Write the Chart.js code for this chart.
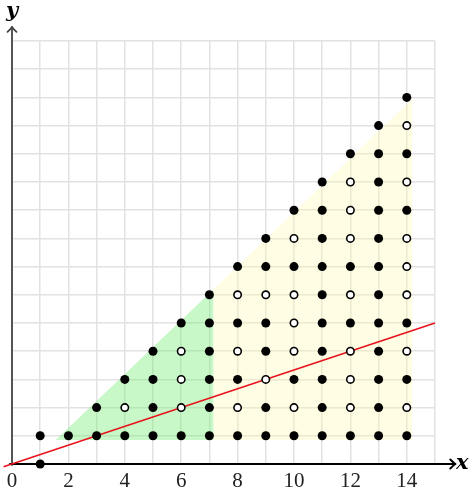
<!DOCTYPE html>
<html>
<head>
<meta charset="utf-8">
<script src="https://cdn.jsdelivr.net/npm/chart.js@4/dist/chart.umd.min.js"></script>
<style>
html,body{margin:0;padding:0;background:#fff;}
#wrap{position:relative;width:474px;height:491px;}
</style>
</head>
<body>
<div id="wrap"><canvas id="c" width="474" height="491"></canvas></div>
<script>
// ---- data ----
const xTickValues = [0, 2, 4, 6, 8, 10, 12, 14];
const xTickLabels = ['0', '2', '4', '6', '8', '10', '12', '14'];

// filled dots
const filledX = [1,1, 2, 3,3, 4,4, 5,5,5,5, 6,6, 7,7,7,7,7,7,
  8,8,8,8, 9,9,9,9,9,9, 10,10,10,10, 11,11,11,11,11,11,11,11,11,11,
  12,12,12,12, 13,13,13,13,13,13,13,13,13,13,13,13, 14,14,14,14,14,14];
const filledY = [0,1, 1, 1,2, 1,3, 1,2,3,4, 1,5, 1,2,3,4,5,6,
  1,3,5,7, 1,2,4,5,7,8, 1,3,7,9, 1,2,3,4,5,6,7,8,9,10,
  1,5,7,11, 1,2,3,4,5,6,7,8,9,10,11,12, 1,3,5,9,11,13];

// hollow dots
const hollowX = [4, 6,6,6, 8,8,8, 9,9, 10,10,10,10,10, 12,12,12,12,12,12,12, 14,14,14,14,14,14,14];
const hollowY = [2, 2,3,4, 2,4,6, 3,6, 2,4,5,6,8, 2,3,4,6,8,9,10, 2,4,6,7,8,10,12];

// red line y = x/3
const lineX = [-0.3, 15];
const lineY = [-0.1, 5];

// shaded regions (outline of upper edge, filled down to the base value)
const greenX = [1.55, 7.15];
const greenY = [0.85, 6.2];
const yellowX = [7.15, 14.2];
const yellowY = [6.2, 12.95];
const regionBase = 0.85;

const pts = (xs, ys) => xs.map((x, i) => ({x: x, y: ys[i]}));

const axesPlugin = {
  id: 'axesArrows',
  beforeDatasetsDraw(chart) {
    const ctx = chart.ctx;
    const xs = chart.scales.x, ys = chart.scales.y;
    const x0 = xs.getPixelForValue(0), y0 = ys.getPixelForValue(0);
    const xEnd = xs.getPixelForValue(15.72);
    const yEnd = ys.getPixelForValue(15.5);
    const xStart = xs.getPixelForValue(-0.07);
    ctx.save();
    ctx.lineCap = 'round';
    ctx.lineJoin = 'round';
    // y axis
    ctx.strokeStyle = '#444';
    ctx.lineWidth = 1.8;
    ctx.beginPath();
    ctx.moveTo(x0, y0 + 1);
    ctx.lineTo(x0, yEnd);
    ctx.stroke();
    ctx.beginPath();
    ctx.moveTo(x0 - 4.5, yEnd + 5);
    ctx.quadraticCurveTo(x0 - 1, yEnd + 1.5, x0, yEnd);
    ctx.quadraticCurveTo(x0 + 1, yEnd + 1.5, x0 + 4.5, yEnd + 5);
    ctx.stroke();
    // x axis
    ctx.strokeStyle = '#000';
    ctx.lineWidth = 2;
    ctx.beginPath();
    ctx.moveTo(xStart, y0);
    ctx.lineTo(xEnd, y0);
    ctx.stroke();
    ctx.beginPath();
    ctx.moveTo(xEnd - 5, y0 - 4.5);
    ctx.quadraticCurveTo(xEnd - 1.5, y0 - 1, xEnd, y0);
    ctx.quadraticCurveTo(xEnd - 1.5, y0 + 1, xEnd - 5, y0 + 4.5);
    ctx.stroke();
    // axis names
    ctx.fillStyle = '#000';
    ctx.font = 'italic bold 21px "DejaVu Serif"';
    ctx.textAlign = 'center';
    ctx.textBaseline = 'middle';
    ctx.fillText('x', xEnd + 7, y0);
    ctx.fillText('y', x0, yEnd - 15);
    ctx.restore();
  }
};

new Chart(document.getElementById('c'), {
  type: 'scatter',
  data: {
    datasets: [
      {
        label: 'filled',
        data: pts(filledX, filledY),
        pointRadius: 4.5,
        pointBackgroundColor: '#000',
        pointBorderColor: '#000',
        pointBorderWidth: 0,
        showLine: false,
        clip: false,
        order: 1
      },
      {
        label: 'hollow',
        data: pts(hollowX, hollowY),
        pointRadius: 3.7,
        pointBackgroundColor: '#fff',
        pointBorderColor: '#000',
        pointBorderWidth: 1.6,
        showLine: false,
        clip: false,
        order: 1
      },
      {
        label: 'line',
        data: pts(lineX, lineY),
        showLine: true,
        borderColor: '#e8141c',
        borderWidth: 1.6,
        pointRadius: 0,
        fill: false,
        clip: false,
        order: 2
      },
      {
        label: 'green',
        data: pts(greenX, greenY),
        showLine: true,
        borderWidth: 0,
        borderColor: 'rgba(0,0,0,0)',
        pointRadius: 0,
        backgroundColor: 'rgba(110,235,110,0.38)',
        fill: {value: regionBase},
        clip: false,
        order: 5
      },
      {
        label: 'yellow',
        data: pts(yellowX, yellowY),
        showLine: true,
        borderWidth: 0,
        borderColor: 'rgba(0,0,0,0)',
        pointRadius: 0,
        backgroundColor: 'rgba(255,250,170,0.32)',
        fill: {value: regionBase},
        clip: false,
        order: 5
      }
    ]
  },
  options: {
    responsive: false,
    animation: false,
    events: [],
    layout: {padding: {left: 12, right: 39, top: 41, bottom: 0}},
    plugins: {legend: {display: false}, tooltip: {enabled: false}},
    scales: {
      x: {
        type: 'linear',
        min: 0, max: 15,
        border: {display: false},
        grid: {color: '#e2e2e2', lineWidth: 1.5, drawTicks: false},
        afterFit: s => { s.height = 27; },
        afterBuildTicks: s => { s.ticks = Array.from({length: 16}, (_, i) => ({value: i})); },
        ticks: {
          autoSkip: false, maxRotation: 0, padding: 5,
          color: '#222',
          font: {family: '"Liberation Serif"', size: 21},
          callback: v => { const i = xTickValues.indexOf(v); return i >= 0 ? xTickLabels[i] : ''; }
        }
      },
      y: {
        type: 'linear',
        min: 0, max: 15,
        border: {display: false},
        grid: {color: '#e2e2e2', lineWidth: 1.5, drawTicks: false},
        afterFit: s => { s.width = 0; },
        ticks: {display: false, stepSize: 1}
      }
    }
  },
  plugins: [axesPlugin]
});
</script>
</body>
</html>
